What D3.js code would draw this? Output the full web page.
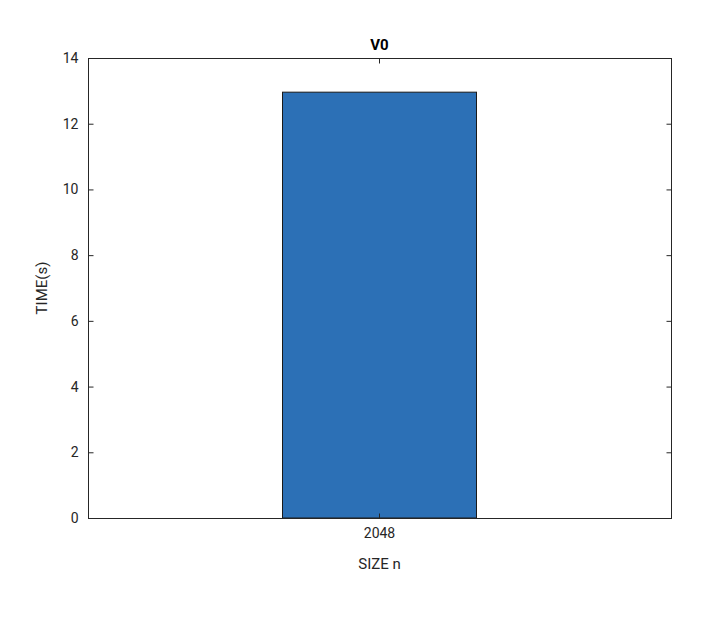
<!DOCTYPE html><html><head><script src="https://cdn.jsdelivr.net/npm/d3@7"></script>
<style>body{margin:0;background:#fff}text{font-family:Roboto,"Liberation Sans",Arial,sans-serif}</style></head><body><svg width="728" height="626"></svg>
<script>
const categories=["2048"];
const values=[12.96];
const yTicks=[0,2,4,6,8,10,12,14];
const svg=d3.select("svg");
const L=88,R=671,T=58,B=518;
const x=d3.scaleBand().domain(categories).range([L,R]).padding(0.6667/1);
const xb=d3.scaleBand().domain(categories).range([L,R]).paddingInner(0).paddingOuter(0.5);
const y=d3.scaleLinear().domain([0,14]).range([B,T]);
const c=(R-L)/2+L, bw=194;
svg.selectAll("rect.bar").data(values).enter().append("rect")
 .attr("x",(d,i)=>xb(categories[i])+xb.bandwidth()/2-bw/2).attr("width",bw)
 .attr("y",d=>y(d)).attr("height",d=>B-y(d)).attr("fill","#2c70b6").attr("stroke","#1a1a1a").attr("stroke-width",1);
const g=svg.append("g").attr("fill","none").attr("stroke","#262626").attr("stroke-width",1);
g.append("rect").attr("x",L+0.5).attr("y",T+0.5).attr("width",R-L).attr("height",B-T).attr("stroke","#262626");
const ay=d3.axisLeft(y).tickValues(yTicks).tickSize(-5).tickPadding(10);
const ga=svg.append("g").attr("transform",`translate(${L+0.5},0)`).call(ay);
ga.select(".domain").remove();
ga.selectAll("text").attr("font-size",14).attr("fill","#262626");
ga.selectAll("line").attr("stroke","#262626");
const gr=svg.append("g").attr("transform",`translate(${R+0.5},0)`).call(d3.axisRight(y).tickValues(yTicks).tickSize(-5).tickFormat(""));
gr.select(".domain").remove();gr.selectAll("line").attr("stroke","#262626");
const ax=d3.axisBottom(xb).tickSize(-5).tickPadding(10);
const gx=svg.append("g").attr("transform",`translate(0,${B+0.5})`).call(ax);
gx.select(".domain").remove();gx.selectAll("text").attr("font-size",14).attr("fill","#262626");gx.selectAll("line").attr("stroke","#262626");
const gt=svg.append("g").attr("transform",`translate(0,${T+0.5})`).call(d3.axisTop(xb).tickSize(-5).tickFormat(""));
gt.select(".domain").remove();gt.selectAll("line").attr("stroke","#262626");
svg.append("text").attr("x",c).attr("y",50).attr("text-anchor","middle").attr("font-size",15).attr("font-weight","bold").attr("fill","#000").text("V0");
svg.append("text").attr("x",c).attr("y",569).attr("text-anchor","middle").attr("font-size",15).attr("fill","#262626").text("SIZE n");
svg.append("text").attr("transform",`translate(47,${(T+B)/2}) rotate(-90)`).attr("text-anchor","middle").attr("font-size",15).attr("fill","#262626").text("TIME(s)");
</script></body></html>
